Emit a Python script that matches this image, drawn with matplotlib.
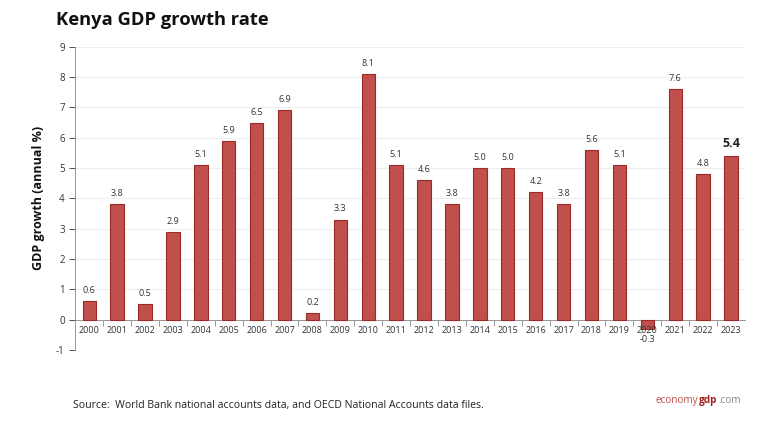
import matplotlib.pyplot as plt

years = [str(y) for y in range(2000, 2024)]
growth = [0.6, 3.8, 0.5, 2.9, 5.1, 5.9, 6.5, 6.9, 0.2, 3.3, 8.1, 5.1,
          4.6, 3.8, 5.0, 5.0, 4.2, 3.8, 5.6, 5.1, -0.3, 7.6, 4.8, 5.4]

plt.rcParams['font.family'] = ['Open Sans', 'DejaVu Sans']
plt.rcParams['axes.unicode_minus'] = False

fig = plt.figure(figsize=(7.68, 4.22), dpi=100)
ax = fig.add_axes([0.098, 0.171, 0.872, 0.718])

x = list(range(len(years)))
ax.bar(x, growth, width=0.48, color='#C0504D', edgecolor='#9E2A27', linewidth=0.8, zorder=3)

# value labels
for i, v in enumerate(growth):
    if i == len(growth) - 1:
        ax.text(i, v + 0.2, f'{v:.1f}', ha='center', va='bottom', fontsize=9,
                fontweight='bold', color='#222222')
    elif v < 0:
        ax.text(i, v - 0.2, f'{v:.1f}', ha='center', va='top', fontsize=6.5, color='#333333')
    else:
        ax.text(i, v + 0.2, f'{v:.1f}', ha='center', va='bottom', fontsize=6.5, color='#333333')

ax.set_xlim(-0.5, len(years) - 0.5)
ax.set_ylim(-1, 9)
ax.set_yticks(range(-1, 10))
ax.tick_params(axis='y', labelsize=7, colors='#333333', length=4, width=0.6)
ax.yaxis.grid(True, color='#EEEEEE', linewidth=0.8, zorder=0)

# category labels sit on the zero line, ticks between categories
ax.spines['bottom'].set_position(('data', 0))
ax.set_xticks([i + 0.5 for i in x[:-1]])
ax.set_xticklabels([])
ax.tick_params(axis='x', length=4, width=0.6, colors='#888888')
for i, yr in enumerate(years):
    ax.text(i, -0.2, yr, ha='center', va='top', fontsize=6.5, color='#333333')

for s in ['top', 'right']:
    ax.spines[s].set_visible(False)
ax.spines['left'].set_color('#888888')
ax.spines['bottom'].set_color('#888888')
ax.spines['left'].set_linewidth(0.6)
ax.spines['bottom'].set_linewidth(0.6)

ax.set_ylabel('GDP growth (annual %)', fontsize=9, fontweight='bold', color='#111111', labelpad=8)

fig.text(0.073, 0.952, 'Kenya GDP growth rate', fontsize=13.2, fontweight='bold',
         color='#111111', va='center', ha='left')
fig.text(0.095, 0.04, 'Source:  World Bank national accounts data, and OECD National Accounts data files.',
         fontsize=7.6, color='#222222', va='center')

# economygdp.com logo, pieces chained after each other
t1 = fig.text(0.853, 0.045, 'economy', fontsize=7.2, color='#C0504D', va='baseline', ha='left')
t2 = ax.annotate('gdp', xy=(1, 0), xycoords=t1, xytext=(1, 0), textcoords='offset points',
                 fontsize=7.2, color='#A0201C', fontweight='bold', va='bottom', ha='left',
                 annotation_clip=False)
ax.annotate('.com', xy=(1, 0), xycoords=t2, xytext=(0.5, 0), textcoords='offset points',
            fontsize=7.2, color='#888888', va='bottom', ha='left', annotation_clip=False)

fig.savefig('out.png', dpi=100)
